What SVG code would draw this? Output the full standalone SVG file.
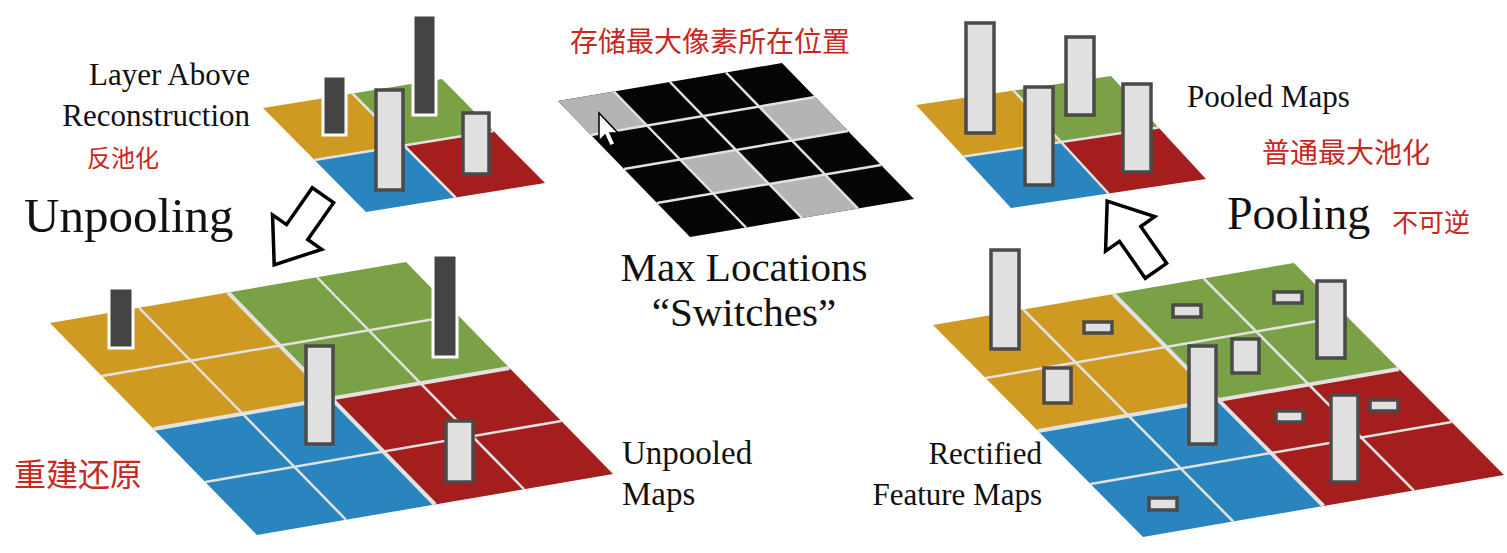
<svg xmlns="http://www.w3.org/2000/svg" width="1507" height="553" viewBox="0 0 1507 553">
<style>
.o{fill:#CF9A22}.g{fill:#7AA145}.r{fill:#A41E1E}.b{fill:#2A84BE}.k{fill:#050505}.s{fill:#B4B4B4}
.ln{stroke:#E2E2E2;stroke-width:2.5;fill:none;vector-effect:non-scaling-stroke}
.lnb{stroke:#E2E2E2;stroke-width:4;fill:none;vector-effect:non-scaling-stroke}
.dk{fill:#444;stroke:#fff;stroke-width:3}
.lt{fill:#E0E0E0;stroke:#4A4A4A;stroke-width:3.5}
.t{font-family:"Liberation Serif",serif;fill:#111}
.cn{font-family:"Noto Sans CJK SC",sans-serif;fill:#C8281E}
.arr{fill:#fff;stroke:#000;stroke-width:3.5;stroke-linejoin:miter}
</style>
<defs>
<g id="q4">
<rect x="0" y="0" width="2" height="2" class="o"/><rect x="2" y="0" width="2" height="2" class="g"/>
<rect x="0" y="2" width="2" height="2" class="b"/><rect x="2" y="2" width="2" height="2" class="r"/>
<path class="ln" d="M1 0V4M3 0V4M0 1H4M0 3H4"/><path class="lnb" d="M2 0V4M0 2H4"/>
</g>
<g id="q2">
<rect x="0" y="0" width="1" height="1" class="o"/><rect x="1" y="0" width="1" height="1" class="g"/>
<rect x="0" y="1" width="1" height="1" class="b"/><rect x="1" y="1" width="1" height="1" class="r"/>
<path class="ln" d="M1 0V2M0 1H2"/>
</g>
</defs>

<g id="layer-above">
<use href="#q2" transform="matrix(89.5 -14.5 51.5 52 263 108)"/>
<rect class="dk" x="323" y="76" width="23" height="59"/>
<rect class="dk" x="413" y="15" width="23" height="100"/>
<rect class="lt" x="376" y="90" width="27" height="100"/>
<rect class="lt" x="463" y="113" width="26" height="61"/>
</g>

<g id="unpooled-maps">
<use href="#q4" transform="matrix(89 -15.25 51.75 53 50 323)"/>
<rect class="dk" x="109" y="288" width="24" height="60"/>
<rect class="dk" x="433" y="255" width="24" height="102"/>
<rect class="lt" x="306" y="346" width="27" height="98"/>
<rect class="lt" x="446" y="421" width="27" height="61"/>
</g>

<g id="switches">
<g transform="matrix(56 -9.5 33 34 558 101)">
<rect x="0" y="0" width="4" height="4" class="k"/>
<rect x="0" y="0" width="1" height="1" class="s"/><rect x="3" y="1" width="1" height="1" class="s"/>
<rect x="1" y="2" width="1" height="1" class="s"/><rect x="2" y="3" width="1" height="1" class="s"/>
<path class="ln" d="M1 0V4M2 0V4M3 0V4M0 1H4M0 2H4M0 3H4"/>
</g>
<polygon points="599,113 599,141 605,135 610,146 615,144 610,133 618,133" fill="#fff" stroke="#000" stroke-width="1.5"/>
</g>

<g id="pooled-maps">
<use href="#q2" transform="matrix(97.5 -14.5 47.5 51.5 916 105)"/>
<rect class="lt" x="966" y="23" width="28" height="110"/>
<rect class="lt" x="1066" y="37" width="28" height="78"/>
<rect class="lt" x="1025" y="87" width="28" height="98"/>
<rect class="lt" x="1123" y="84" width="28" height="88"/>
</g>

<g id="rectified-maps">
<use href="#q4" transform="matrix(90.25 -15.5 52.5 53 933 325)"/>
<rect class="lt" x="991" y="250" width="28" height="99"/>
<rect class="lt" x="1084" y="322" width="28" height="11"/>
<rect class="lt" x="1173" y="305" width="28" height="12"/>
<rect class="lt" x="1274" y="292" width="28" height="11"/>
<rect class="lt" x="1317" y="281" width="28" height="77"/>
<rect class="lt" x="1232" y="339" width="27" height="34"/>
<rect class="lt" x="1044" y="368" width="27" height="35"/>
<rect class="lt" x="1189" y="346" width="27" height="98"/>
<rect class="lt" x="1331" y="395" width="27" height="87"/>
<rect class="lt" x="1276" y="411" width="27" height="11"/>
<rect class="lt" x="1370" y="400" width="28" height="11"/>
<rect class="lt" x="1149" y="498" width="28" height="12"/>
</g>

<g id="connectors">
<polygon class="arr" transform="translate(300,228) rotate(35)" points="0,45 -30,5 -13,5 -13,-40 13,-40 13,5 30,5"/>
<polygon class="arr" transform="translate(1133,238) rotate(-35)" points="0,-45 -30,-5 -13,-5 -13,40 13,40 13,-5 30,-5"/>
</g>

<g id="labels">
<text class="t" x="250" y="85" font-size="31" text-anchor="end">Layer Above</text>
<text class="t" x="250" y="126" font-size="31" text-anchor="end">Reconstruction</text>
<text class="cn" x="87" y="167" font-size="24">反池化</text>
<text class="t" x="24" y="232" font-size="49">Unpooling</text>
<text class="cn" x="570" y="52" font-size="28">存储最大像素所在位置</text>
<text class="t" x="744" y="281" font-size="41" text-anchor="middle">Max Locations</text>
<text class="t" x="744" y="326" font-size="41" text-anchor="middle">“Switches”</text>
<text class="t" x="1187" y="107" font-size="31">Pooled Maps</text>
<text class="cn" x="1262" y="163" font-size="28">普通最大池化</text>
<text class="t" x="1227" y="229" font-size="46">Pooling</text>
<text class="cn" x="1392" y="232" font-size="26">不可逆</text>
<text class="t" x="622" y="464" font-size="33">Unpooled</text>
<text class="t" x="622" y="505" font-size="33">Maps</text>
<text class="t" x="1042" y="464" font-size="31" text-anchor="end">Rectified</text>
<text class="t" x="1042" y="505" font-size="31" text-anchor="end">Feature Maps</text>
<text class="cn" x="14" y="486" font-size="32">重建还原</text>
</g>
</svg>
